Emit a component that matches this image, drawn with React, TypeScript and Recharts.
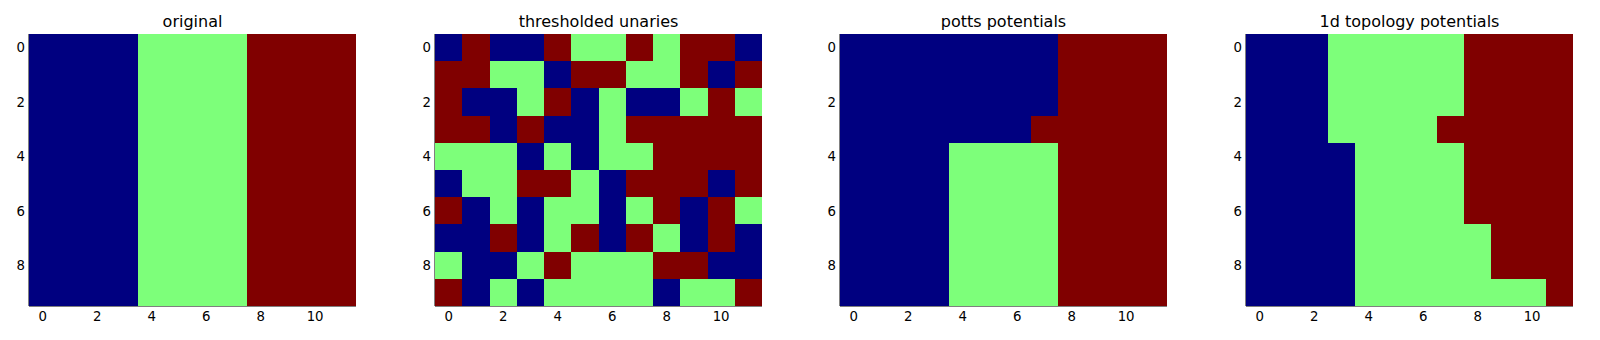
import { ScatterChart, Scatter, XAxis, YAxis } from "recharts";

// cell values: 0 = blue, 1 = green, 2 = red (jet colormap)
const original = [
  [0, 0, 0, 0, 1, 1, 1, 1, 2, 2, 2, 2],
  [0, 0, 0, 0, 1, 1, 1, 1, 2, 2, 2, 2],
  [0, 0, 0, 0, 1, 1, 1, 1, 2, 2, 2, 2],
  [0, 0, 0, 0, 1, 1, 1, 1, 2, 2, 2, 2],
  [0, 0, 0, 0, 1, 1, 1, 1, 2, 2, 2, 2],
  [0, 0, 0, 0, 1, 1, 1, 1, 2, 2, 2, 2],
  [0, 0, 0, 0, 1, 1, 1, 1, 2, 2, 2, 2],
  [0, 0, 0, 0, 1, 1, 1, 1, 2, 2, 2, 2],
  [0, 0, 0, 0, 1, 1, 1, 1, 2, 2, 2, 2],
  [0, 0, 0, 0, 1, 1, 1, 1, 2, 2, 2, 2],
];

const thresholdedUnaries = [
  [0, 2, 0, 0, 2, 1, 1, 2, 1, 2, 2, 0],
  [2, 2, 1, 1, 0, 2, 2, 1, 1, 2, 0, 2],
  [2, 0, 0, 1, 2, 0, 1, 0, 0, 1, 2, 1],
  [2, 2, 0, 2, 0, 0, 1, 2, 2, 2, 2, 2],
  [1, 1, 1, 0, 1, 0, 1, 1, 2, 2, 2, 2],
  [0, 1, 1, 2, 2, 1, 0, 2, 2, 2, 0, 2],
  [2, 0, 1, 0, 1, 1, 0, 1, 2, 0, 2, 1],
  [0, 0, 2, 0, 1, 2, 0, 2, 1, 0, 2, 0],
  [1, 0, 0, 1, 2, 1, 1, 1, 2, 2, 0, 0],
  [2, 0, 1, 0, 1, 1, 1, 1, 0, 1, 1, 2],
];

const pottsPotentials = [
  [0, 0, 0, 0, 0, 0, 0, 0, 2, 2, 2, 2],
  [0, 0, 0, 0, 0, 0, 0, 0, 2, 2, 2, 2],
  [0, 0, 0, 0, 0, 0, 0, 0, 2, 2, 2, 2],
  [0, 0, 0, 0, 0, 0, 0, 2, 2, 2, 2, 2],
  [0, 0, 0, 0, 1, 1, 1, 1, 2, 2, 2, 2],
  [0, 0, 0, 0, 1, 1, 1, 1, 2, 2, 2, 2],
  [0, 0, 0, 0, 1, 1, 1, 1, 2, 2, 2, 2],
  [0, 0, 0, 0, 1, 1, 1, 1, 2, 2, 2, 2],
  [0, 0, 0, 0, 1, 1, 1, 1, 2, 2, 2, 2],
  [0, 0, 0, 0, 1, 1, 1, 1, 2, 2, 2, 2],
];

const topologyPotentials = [
  [0, 0, 0, 1, 1, 1, 1, 1, 2, 2, 2, 2],
  [0, 0, 0, 1, 1, 1, 1, 1, 2, 2, 2, 2],
  [0, 0, 0, 1, 1, 1, 1, 1, 2, 2, 2, 2],
  [0, 0, 0, 1, 1, 1, 1, 2, 2, 2, 2, 2],
  [0, 0, 0, 0, 1, 1, 1, 1, 2, 2, 2, 2],
  [0, 0, 0, 0, 1, 1, 1, 1, 2, 2, 2, 2],
  [0, 0, 0, 0, 1, 1, 1, 1, 2, 2, 2, 2],
  [0, 0, 0, 0, 1, 1, 1, 1, 1, 2, 2, 2],
  [0, 0, 0, 0, 1, 1, 1, 1, 1, 2, 2, 2],
  [0, 0, 0, 0, 1, 1, 1, 1, 1, 1, 1, 2],
];

const xTicks = [0, 2, 4, 6, 8, 10];
const yTicks = [0, 2, 4, 6, 8];

const panels = [
  { title: "original", grid: original },
  { title: "thresholded unaries", grid: thresholdedUnaries },
  { title: "potts potentials", grid: pottsPotentials },
  { title: "1d topology potentials", grid: topologyPotentials },
];

const jet = ["#000080", "#7dff7a", "#800000"];

const W = 405;
const H = 340;
const AXIS_L = 29;
const AXIS_B = 34;
const TOP = 34;
const RIGHT = 49;
const plotW = W - AXIS_L - RIGHT;
const plotH = H - TOP - AXIS_B;

const font = "'DejaVu Sans', sans-serif";
const tickStyle = { fill: "#000", fontSize: 13.3, fontFamily: font };

const Heatmap = ({ title, grid }: { title: string; grid: number[][] }) => {
  const ncol = grid[0].length;
  const nrow = grid.length;
  const cw = plotW / ncol;
  const ch = plotH / nrow;
  const cells = grid.flatMap((r, row) => r.map((v, col) => ({ col, row, v })));

  const Cell = (p: any) => (
    <rect
      x={p.cx - cw / 2}
      y={p.cy - ch / 2}
      width={cw + 0.5}
      height={ch + 0.5}
      fill={jet[p.payload.v]}
      shapeRendering="crispEdges"
    />
  );

  return (
    <div style={{ position: "relative", width: W, height: H }}>
      <div
        style={{
          position: "absolute",
          left: AXIS_L,
          width: plotW,
          top: 13,
          textAlign: "center",
          fontFamily: font,
          fontSize: 16,
          lineHeight: "18px",
          color: "#000",
          whiteSpace: "nowrap",
        }}
      >
        {title}
      </div>
      <ScatterChart
        width={W}
        height={H}
        margin={{ top: TOP, right: RIGHT, bottom: 0, left: 0 }}
      >
        <XAxis
          xAxisId="b"
          type="number"
          dataKey="col"
          domain={[-0.5, ncol - 0.5]}
          ticks={xTicks}
          height={AXIS_B}
          tick={tickStyle}
          tickSize={-4}
          tickMargin={10}
          axisLine={{ stroke: "#000" }}
          tickLine={{ stroke: "#000" }}
          allowDataOverflow
        />
        <XAxis
          xAxisId="t"
          orientation="top"
          type="number"
          dataKey="col"
          domain={[-0.5, ncol - 0.5]}
          ticks={xTicks}
          height={0}
          tick={false}
          tickSize={-4}
          axisLine={{ stroke: "#000" }}
          tickLine={{ stroke: "#000" }}
          allowDataOverflow
        />
        <YAxis
          yAxisId="l"
          type="number"
          dataKey="row"
          domain={[-0.5, nrow - 0.5]}
          reversed
          ticks={yTicks}
          width={AXIS_L}
          tick={tickStyle}
          tickSize={-4}
          tickMargin={8}
          axisLine={{ stroke: "#000" }}
          tickLine={{ stroke: "#000" }}
          allowDataOverflow
        />
        <YAxis
          yAxisId="r"
          orientation="right"
          type="number"
          dataKey="row"
          domain={[-0.5, nrow - 0.5]}
          reversed
          ticks={yTicks}
          width={0}
          tick={false}
          tickSize={-4}
          axisLine={{ stroke: "#000" }}
          tickLine={{ stroke: "#000" }}
          allowDataOverflow
        />
        <Scatter
          xAxisId="b"
          yAxisId="l"
          data={cells}
          shape={Cell}
          isAnimationActive={false}
        />
      </ScatterChart>
    </div>
  );
};

export default function App() {
  return (
    <div
      style={{
        position: "absolute",
        left: 0,
        top: 0,
        width: 1600,
        height: 340,
        background: "#fff",
      }}
    >
      {panels.map((p, i) => (
        <div
          key={p.title}
          style={{ position: "absolute", left: Math.round(i * 405.5), top: 0 }}
        >
          <Heatmap title={p.title} grid={p.grid} />
        </div>
      ))}
    </div>
  );
}
